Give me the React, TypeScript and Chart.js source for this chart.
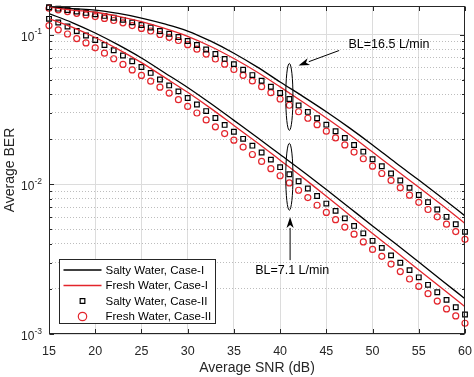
import React, { useEffect, useRef } from 'react';
import { Chart, registerables } from 'chart.js';

Chart.register(...registerables);

// ---------- data ----------
const SNR_DB = [15, 16, 17, 18, 19, 20, 21, 22, 23, 24, 25, 26, 27, 28, 29, 30, 31, 32, 33, 34, 35, 36, 37, 38, 39, 40, 41, 42, 43, 44, 45, 46, 47, 48, 49, 50, 51, 52, 53, 54, 55, 56, 57, 58, 59, 60];
const SNR_LINE = [15, 17.5, 20, 22.5, 25, 27.5, 30, 32.5, 35, 37.5, 40, 42.5, 45, 47.5, 50, 52.5, 55, 57.5, 60];

// BL = 16.5 L/min (upper group)
const SALTY_I_UPPER = [0.1539, 0.1491, 0.1457, 0.1382, 0.1288, 0.1177, 0.1055, 0.0902, 0.0750, 0.0608, 0.0482, 0.0385, 0.0305, 0.0238, 0.0183, 0.0139, 0.01067, 0.00813, 0.00615];
const FRESH_I_UPPER = [0.1528, 0.1457, 0.1408, 0.1322, 0.1217, 0.1098, 0.0973, 0.0832, 0.0691, 0.0562, 0.0447, 0.0353, 0.0277, 0.0215, 0.0164, 0.0125, 0.00955, 0.00726, 0.00547];
const SALTY_II_UPPER = [0.1521, 0.1488, 0.1455, 0.1424, 0.1394, 0.1364, 0.1331, 0.1294, 0.1252, 0.1205, 0.1157, 0.1113, 0.1055, 0.1011, 0.0962, 0.0905, 0.0851, 0.0794, 0.0741, 0.0687, 0.0634, 0.0582, 0.0536, 0.0491, 0.0448, 0.0407, 0.0371, 0.0336, 0.0304, 0.0276, 0.0250, 0.0226, 0.0204, 0.0183, 0.0165, 0.0147, 0.0132, 0.0118, 0.0106, 0.00946, 0.00847, 0.00759, 0.00678, 0.00606, 0.00541, 0.00481];
const FRESH_II_UPPER = [0.1498, 0.1461, 0.1422, 0.1385, 0.1352, 0.1317, 0.1281, 0.1240, 0.1196, 0.1147, 0.1098, 0.1055, 0.1000, 0.0958, 0.0912, 0.0855, 0.0798, 0.0740, 0.0686, 0.0634, 0.0584, 0.0534, 0.0490, 0.0448, 0.0409, 0.0371, 0.0337, 0.0305, 0.0276, 0.0250, 0.0226, 0.0204, 0.0183, 0.0164, 0.0148, 0.0132, 0.0118, 0.0106, 0.00949, 0.00846, 0.00757, 0.00678, 0.00606, 0.00541, 0.00483, 0.00429];

// BL = 7.1 L/min (lower group)
const SALTY_I_LOWER = [0.1380, 0.1202, 0.1023, 0.0852, 0.0697, 0.0556, 0.0443, 0.0346, 0.0267, 0.0206, 0.0158, 0.01213, 0.00922, 0.00697, 0.00527, 0.00401, 0.00303, 0.00228, 0.00172];
const FRESH_I_LOWER = [0.1278, 0.1119, 0.0955, 0.0796, 0.0649, 0.0517, 0.0411, 0.0321, 0.0247, 0.0190, 0.01448, 0.01103, 0.00831, 0.00624, 0.00469, 0.00355, 0.00268, 0.00202, 0.00152];
const SALTY_II_LOWER = [0.1272, 0.1202, 0.1131, 0.1055, 0.0985, 0.0919, 0.0851, 0.0785, 0.0724, 0.0663, 0.0607, 0.0554, 0.0501, 0.0457, 0.0417, 0.0377, 0.0341, 0.0308, 0.0277, 0.0249, 0.0224, 0.0201, 0.0181, 0.0163, 0.0146, 0.0130, 0.01166, 0.01047, 0.00936, 0.00834, 0.00743, 0.00664, 0.00592, 0.00527, 0.00470, 0.00419, 0.00376, 0.00335, 0.00299, 0.00267, 0.00239, 0.00213, 0.00190, 0.00169, 0.00151, 0.00135];
const FRESH_II_LOWER = [0.1148, 0.1075, 0.1008, 0.0940, 0.0878, 0.0815, 0.0750, 0.0689, 0.0631, 0.0580, 0.0533, 0.0488, 0.0445, 0.0406, 0.0367, 0.0331, 0.0299, 0.0269, 0.0242, 0.0218, 0.0197, 0.0177, 0.0158, 0.0142, 0.0127, 0.0114, 0.0102, 0.00912, 0.00815, 0.00724, 0.00648, 0.00580, 0.00518, 0.00464, 0.00412, 0.00367, 0.00330, 0.00293, 0.00261, 0.00233, 0.00208, 0.00186, 0.00166, 0.00147, 0.00132, 0.00118];

const X_TICKS = [15, 20, 25, 30, 35, 40, 45, 50, 55, 60];
const Y_DECADES = [0.001, 0.01, 0.1];
const Y_DECADE_LABELS = ['-3', '-2', '-1'];
const Y_MINOR_FACTORS = [2, 3, 4, 5, 6, 7, 8, 9];
const LEGEND_LABELS = ['Salty Water, Case-I', 'Fresh Water, Case-I', 'Salty Water, Case-II', 'Fresh Water, Case-II'];

// annotations (in data units)
const ELLIPSES = [
  { snr: 41, hi: 0.0641, lo: 0.0229 },
  { snr: 41, hi: 0.01877, lo: 0.00671 },
];
const ARROWS = [
  { x0: 46.39, y0: 0.0782, x1: 41.99, y1: 0.0621 },
  { x0: 41.08, y0: 0.003114, x1: 41.08, y1: 0.00605 },
];
const NOTES = [
  { text: 'BL=16.5 L/min', snr: 47.4, ber: 0.0854 },
  { text: 'BL=7.1 L/min', snr: 37.3, ber: 0.00267 },
];

// ---------- style ----------
const FONT = '"Liberation Sans", Arial, Helvetica, sans-serif';
const RED = '#e3242b';
const BLACK = '#000000';
const AXIS = '#262626';

const Y_TICKS: number[] = [];
Y_DECADES.forEach((d, i) => {
  Y_TICKS.push(d);
  if (i < Y_DECADES.length - 1) Y_MINOR_FACTORS.forEach((f) => Y_TICKS.push(f * d));
});

const isDecade = (v: number) => {
  const l = Math.log10(v);
  return Math.abs(l - Math.round(l)) < 1e-6;
};

const pts = (xs: number[], ys: number[]) => xs.map((x, i) => ({ x, y: ys[i] }));

const lineDs = (label: string, ys: number[], color: string) => ({
  label,
  data: pts(SNR_LINE, ys),
  borderColor: color,
  backgroundColor: color,
  borderWidth: 1.3,
  pointRadius: 0,
  pointHoverRadius: 0,
  cubicInterpolationMode: 'monotone',
  fill: false,
});

const markDs = (label: string, ys: number[], color: string, style: string) => ({
  label,
  data: pts(SNR_DB, ys),
  showLine: false,
  borderColor: color,
  backgroundColor: 'rgba(0,0,0,0)',
  pointStyle: style,
  pointRadius: style === 'rect' ? 3.3 : 3.0,
  pointBorderWidth: 1.2,
  borderWidth: 1.2,
  pointBackgroundColor: 'rgba(0,0,0,0)',
  pointBorderColor: color,
  clip: false,
});

const annotPlugin = {
  id: 'annot',
  afterDatasetsDraw(chart: any) {
    const { ctx, scales } = chart;
    const x = scales.x;
    const y = scales.y;
    ctx.save();
    ctx.strokeStyle = BLACK;
    ctx.fillStyle = BLACK;
    ctx.lineWidth = 1;
    ELLIPSES.forEach((e) => {
      const cx = x.getPixelForValue(e.snr);
      const y1 = y.getPixelForValue(e.hi);
      const y2 = y.getPixelForValue(e.lo);
      ctx.beginPath();
      ctx.ellipse(cx, (y1 + y2) / 2, 3.6, (y2 - y1) / 2, 0, 0, Math.PI * 2);
      ctx.stroke();
    });
    ARROWS.forEach((a) => {
      const px0 = x.getPixelForValue(a.x0);
      const py0 = y.getPixelForValue(a.y0);
      const px1 = x.getPixelForValue(a.x1);
      const py1 = y.getPixelForValue(a.y1);
      const ang = Math.atan2(py1 - py0, px1 - px0);
      const len = 11;
      const hw = 3.6;
      const bx = px1 - len * Math.cos(ang);
      const by = py1 - len * Math.sin(ang);
      ctx.beginPath();
      ctx.moveTo(px0, py0);
      ctx.lineTo(bx, by);
      ctx.stroke();
      ctx.beginPath();
      ctx.moveTo(px1, py1);
      ctx.lineTo(bx + hw * Math.sin(ang), by - hw * Math.cos(ang));
      ctx.lineTo(bx + 3 * Math.cos(ang), by + 3 * Math.sin(ang));
      ctx.lineTo(bx - hw * Math.sin(ang), by + hw * Math.cos(ang));
      ctx.closePath();
      ctx.fill();
    });
    ctx.font = `12.5px ${FONT}`;
    ctx.textAlign = 'left';
    ctx.textBaseline = 'middle';
    NOTES.forEach((n) => {
      ctx.fillText(n.text, x.getPixelForValue(n.snr), y.getPixelForValue(n.ber));
    });
    ctx.restore();
  },
};

const framePlugin = {
  id: 'frame',
  afterDraw(chart: any) {
    const { ctx, chartArea: a, scales } = chart;
    const x = scales.x;
    const y = scales.y;
    const L = Math.round(a.left) + 0.5;
    const R = Math.round(a.right) - 0.5;
    const T = Math.round(a.top) + 0.5;
    const B = Math.round(a.bottom) - 0.5;
    ctx.save();
    ctx.strokeStyle = AXIS;
    ctx.lineWidth = 1;
    ctx.beginPath();
    X_TICKS.forEach((v) => {
      const px = Math.round(x.getPixelForValue(v)) + 0.5;
      ctx.moveTo(px, B);
      ctx.lineTo(px, B - 4.5);
      ctx.moveTo(px, T);
      ctx.lineTo(px, T + 4.5);
    });
    Y_TICKS.forEach((v) => {
      const py = Math.round(y.getPixelForValue(v)) + 0.5;
      const len = isDecade(v) ? 4.5 : 2.5;
      ctx.moveTo(L, py);
      ctx.lineTo(L + len, py);
      ctx.moveTo(R, py);
      ctx.lineTo(R - len, py);
    });
    ctx.stroke();
    ctx.strokeRect(L, T, R - L, B - T);

    // y decade labels: 10 with superscript exponent
    ctx.fillStyle = AXIS;
    ctx.textBaseline = 'middle';
    Y_DECADES.forEach((d, i) => {
      const py = y.getPixelForValue(d);
      const exp = Y_DECADE_LABELS[i];
      ctx.font = `8.5px ${FONT}`;
      const ew = ctx.measureText(exp).width;
      const right = a.left - 7;
      ctx.textAlign = 'left';
      ctx.fillText(exp, right - ew, py - 2.5);
      ctx.font = `12px ${FONT}`;
      ctx.textAlign = 'right';
      ctx.fillText('10', right - ew, py + 2.7);
    });
    ctx.restore();
  },
};

const legendPlugin = {
  id: 'customLegend',
  afterDraw(chart: any) {
    const { ctx, chartArea: a } = chart;
    const ds = chart.data.datasets;
    const left = Math.round(a.left) + 10.5;
    const bottom = Math.round(a.bottom) - 10.5;
    const w = 156;
    const h = 64;
    const top = bottom - h;
    ctx.save();
    ctx.fillStyle = '#ffffff';
    ctx.fillRect(left, top, w, h);
    ctx.strokeStyle = AXIS;
    ctx.lineWidth = 1;
    ctx.strokeRect(left, top, w, h);
    ctx.font = `11.5px ${FONT}`;
    ctx.textBaseline = 'middle';
    ctx.textAlign = 'left';
    LEGEND_LABELS.forEach((lab, i) => {
      const d = ds[i];
      const cy = top + 10.5 + i * 15.5;
      const x0 = left + 4;
      const x1 = left + 42;
      const mx = (x0 + x1) / 2;
      if (d.showLine === false) {
        ctx.strokeStyle = d.borderColor;
        ctx.lineWidth = 1.2;
        ctx.beginPath();
        if (d.pointStyle === 'rect') {
          const s = d.pointRadius * Math.SQRT1_2;
          ctx.rect(mx - s, cy - s, 2 * s, 2 * s);
        } else {
          ctx.arc(mx, cy, d.pointRadius + 1.2, 0, Math.PI * 2);
        }
        ctx.stroke();
      } else {
        ctx.strokeStyle = d.borderColor;
        ctx.lineWidth = d.borderWidth;
        ctx.beginPath();
        ctx.moveTo(x0, cy);
        ctx.lineTo(x1, cy);
        ctx.stroke();
      }
      ctx.fillStyle = BLACK;
      ctx.fillText(lab, left + 46, cy + 0.5);
    });
    ctx.restore();
  },
};

export default function App() {
  const ref = useRef<HTMLCanvasElement | null>(null);

  useEffect(() => {
    if (!ref.current) return;
    const datasets: any[] = [
      lineDs(LEGEND_LABELS[0], SALTY_I_UPPER, BLACK),
      lineDs(LEGEND_LABELS[1], FRESH_I_UPPER, RED),
      markDs(LEGEND_LABELS[2], SALTY_II_UPPER, BLACK, 'rect'),
      markDs(LEGEND_LABELS[3], FRESH_II_UPPER, RED, 'circle'),
      lineDs(LEGEND_LABELS[0], SALTY_I_LOWER, BLACK),
      lineDs(LEGEND_LABELS[1], FRESH_I_LOWER, RED),
      markDs(LEGEND_LABELS[2], SALTY_II_LOWER, BLACK, 'rect'),
      markDs(LEGEND_LABELS[3], FRESH_II_LOWER, RED, 'circle'),
    ];
    const chart = new Chart(ref.current, {
      type: 'line',
      data: { datasets },
      options: {
        animation: false,
        responsive: false,
        events: [],
        layout: { padding: { left: 0, right: 9, top: 6, bottom: 0 } },
        plugins: { legend: { display: false }, tooltip: { enabled: false } },
        scales: {
          x: {
            type: 'linear',
            min: 15,
            max: 60,
            afterBuildTicks: (s: any) => {
              s.ticks = X_TICKS.map((v) => ({ value: v }));
            },
            afterFit: (s: any) => {
              s.height = 43;
              s.paddingLeft = 0;
              s.paddingRight = 0;
            },
            ticks: { font: { family: FONT, size: 12.5 }, color: AXIS, padding: 10, maxRotation: 0, autoSkip: false },
            grid: {
              color: (c: any) => (c.tick && (c.tick.value === 15 || c.tick.value === 60) ? 'rgba(0,0,0,0)' : '#dcdcdc'),
              lineWidth: 1,
              drawTicks: false,
            },
            border: { display: false },
            title: { display: true, text: 'Average SNR (dB)', font: { family: FONT, size: 14 }, color: AXIS, padding: { top: 0, bottom: 0 } },
          },
          y: {
            type: 'logarithmic',
            min: 0.001,
            max: 0.155,
            afterBuildTicks: (s: any) => {
              s.ticks = Y_TICKS.map((v) => ({ value: v, major: isDecade(v) }));
            },
            afterFit: (s: any) => {
              s.width = 49;
            },
            ticks: { display: false, autoSkip: false },
            grid: {
              color: (c: any) => (c.tick && isDecade(c.tick.value) ? '#dcdcdc' : '#bdbdbd'),
              lineWidth: 1,
              drawTicks: false,
            },
            border: {
              display: false,
              dash: (c: any) => (c && c.tick && !isDecade(c.tick.value) ? [1, 2] : []),
            },
            title: { display: true, text: 'Average BER', font: { family: FONT, size: 14 }, color: AXIS, padding: { top: 2, bottom: 0 } },
          },
        },
      } as any,
      plugins: [annotPlugin, framePlugin, legendPlugin],
    });
    return () => chart.destroy();
  }, []);

  return (
    <div style={{ position: 'fixed', left: 0, top: 0, width: 474, height: 377, background: '#ffffff' }}>
      <canvas ref={ref} width={474} height={377} style={{ display: 'block' }} />
    </div>
  );
}
